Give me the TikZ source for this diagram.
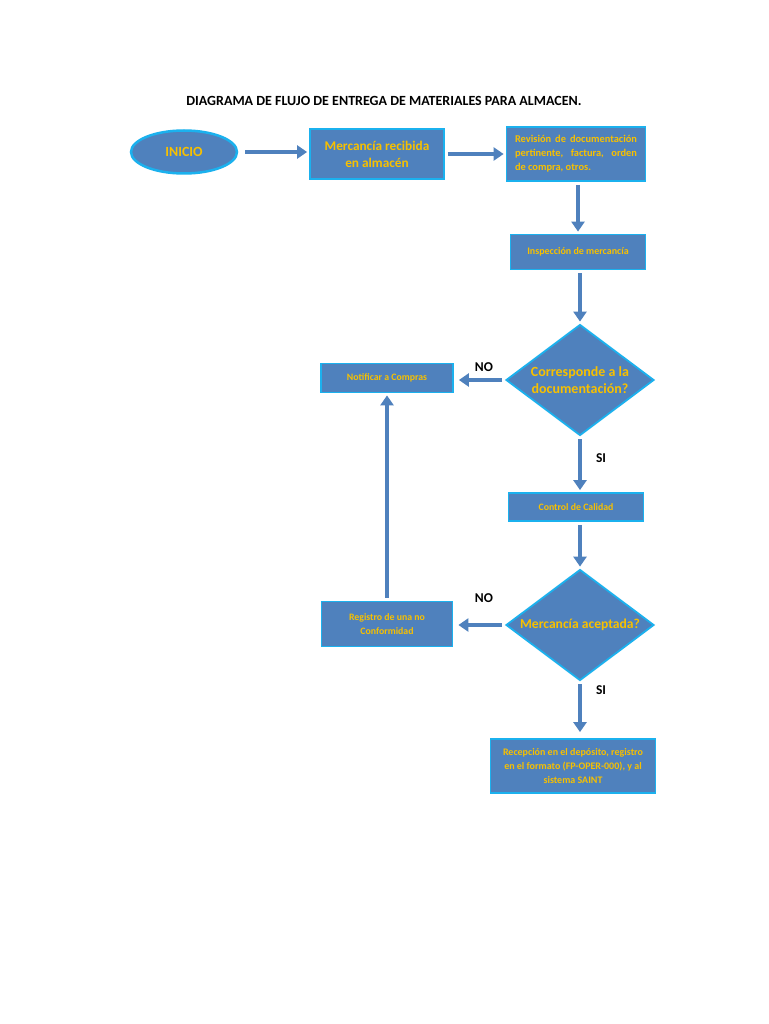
\documentclass[tikz,border=0pt]{standalone}
\usepackage{fontspec}
\setmainfont{Carlito}
\usepackage{tikz}
\usepackage{xcolor}
\usetikzlibrary{shapes.geometric, arrows.meta}

\definecolor{boxblue}{HTML}{4F81BD}
\definecolor{edgecyan}{HTML}{1BB1EE}
\definecolor{textgold}{HTML}{F7C000}

\begin{document}
\begin{tikzpicture}[x=1pt, y=-1pt,
        paso/.style={rectangle, draw=edgecyan, line width=1.8pt, fill=boxblue,
            text=textgold, font=\bfseries, align=center, inner sep=2pt},
        decision/.style={diamond, draw=edgecyan, line width=1.8pt, fill=boxblue,
            minimum width=148pt, minimum height=111pt, inner sep=0pt},
        flecha/.style={draw=boxblue, line width=4pt,
            -{Triangle[width=13pt, length=10pt]}, shorten <=3pt, shorten >=2pt},
        rotulo/.style={font=\bfseries\fontsize{13.5}{16}\selectfont}]
        \useasboundingbox[fill=white] (0, 0) rectangle (768, 1024);

        \node[font=\bfseries\fontsize{14}{16}\selectfont] at (384, 101) (titulo)
            {DIAGRAMA DE FLUJO DE ENTREGA DE MATERIALES PARA ALMACEN.};

        \node[ellipse, draw=edgecyan, line width=2.5pt, fill=boxblue, text=textgold,
            font=\bfseries\fontsize{14}{16}\selectfont, minimum width=106pt,
            minimum height=43pt] at (184, 152) (inicio) {INICIO};
        \node[paso, minimum width=134pt, minimum height=50pt,
            font=\bfseries\fontsize{13.3}{17}\selectfont] at (377, 154) (recibida)
            {Mercancía recibida\\en almacén};
        \node[paso, minimum width=139pt, minimum height=54pt, text width=122pt,
            align=justify, font=\bfseries\fontsize{10.4}{14}\selectfont] at (576, 154) (revision)
            {Revisión de documentación\linebreak pertinente, factura, orden\linebreak de compra, otros.};
        \node[paso, minimum width=135pt, minimum height=35pt,
            font=\bfseries\fontsize{10}{12}\selectfont] at (578, 252) (inspeccion)
            {Inspección de mercancía};
        \node[decision] at (580, 380) (corresponde) {};
        \node[text=textgold, font=\bfseries\fontsize{14}{17}\selectfont, align=center]
            at (580, 380) {Corresponde a la\\documentación?};
        \node[paso, minimum width=132pt, minimum height=29pt,
            font=\bfseries\fontsize{9.8}{12}\selectfont] at (387, 378) (notificar)
            {Notificar a Compras};
        \node[paso, minimum width=135pt, minimum height=28pt,
            font=\bfseries\fontsize{9.8}{12}\selectfont] at (576, 507) (calidad)
            {Control de Calidad};
        \node[decision] at (580, 625) (aceptada) {};
        \node[text=textgold, font=\bfseries\fontsize{13.6}{16}\selectfont]
            at (580, 625) {Mercancía aceptada?};
        \node[paso, minimum width=131pt, minimum height=45pt,
            font=\bfseries\fontsize{9.8}{14.5}\selectfont] at (387, 624) (registro)
            {Registro de una no\\Conformidad};
        \node[paso, minimum width=165pt, minimum height=54pt,
            font=\bfseries\fontsize{10}{14}\selectfont] at (573, 766) (recepcion)
            {Recepción en el depósito, registro\\en el formato (FP-OPER-000), y al\\sistema SAINT};

        \draw[flecha, shorten <=7pt] (inicio) to (inicio -| recibida.west);
        \draw[flecha] (recibida) to (recibida -| revision.west);
        \draw[flecha] (revision.south -| inspeccion) to (inspeccion);
        \draw[flecha] (inspeccion.south -| corresponde) to (corresponde);
        \draw[flecha, shorten >=5pt] (corresponde) to (corresponde -| notificar.east);
        \draw[flecha] (corresponde) to (calidad.north -| corresponde);
        \draw[flecha] (calidad.south -| aceptada) to (aceptada);
        \draw[flecha, shorten >=5pt] (aceptada) to (aceptada -| registro.east);
        \draw[flecha, shorten >=6pt] (aceptada.south) to (recepcion.north -| aceptada);
        \draw[flecha] (registro) to (notificar);

        \node[rotulo] at (484, 367) {NO};
        \node[rotulo] at (601, 458) {SI};
        \node[rotulo] at (484, 598) {NO};
        \node[rotulo] at (601, 690) {SI};
    \end{tikzpicture}
\end{document}
